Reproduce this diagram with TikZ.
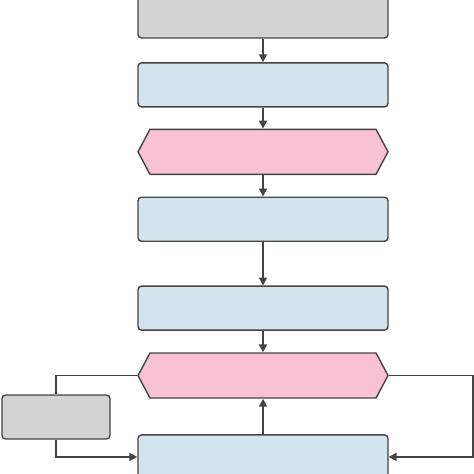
\documentclass[tikz,border=0pt]{standalone}
\usetikzlibrary{arrows.meta,positioning,shapes.symbols}
\definecolor{LineGray}{RGB}{68,68,68}
\definecolor{BoxGray}{RGB}{211,211,211}
\definecolor{BoxBlue}{RGB}{211,229,236}
\definecolor{BoxPink}{RGB}{249,193,212}
\tikzset{
  stepbox/.style={rectangle,draw=LineGray,line width=0.8pt,rounded corners=2pt,minimum width=5cm,minimum height=0.88cm,inner sep=0pt},
  startbox/.style={stepbox,fill=BoxGray},
  procbox/.style={stepbox,fill=BoxBlue},
  checkbox/.style={signal,signal to=east and west,signal pointer angle=124,draw=LineGray,line width=0.8pt,fill=BoxPink,minimum width=5cm,minimum height=0.9cm,inner sep=0pt},
  link/.style={draw=LineGray,line width=1.1pt},
  flow/.style={-{Triangle[length=4.5pt,width=4.5pt]},draw=LineGray,line width=1.1pt}
}
\begin{document}
\begin{tikzpicture}
\useasboundingbox (0,0) rectangle (9.48,-9.48);
\clip (0,0) rectangle (9.48,-9.48);
\node[startbox](start) at (5.26,-0.32){};
\node[procbox,below=0.47cm of start](prep){};
\node[checkbox,below=0.42cm of prep](check1){};
\node[procbox,below=0.43cm of check1](run){};
\node[procbox,below=0.87cm of run](eval){};
\node[checkbox,below=0.43cm of eval](check2){};
\node[procbox,below=0.71cm of check2](fix){};
\node[startbox,minimum width=2.16cm](side) at (1.12,-8.34){};
\coordinate (rt) at (9.46,0);
\draw[flow](start)--(prep);
\draw[flow](prep)--(check1);
\draw[flow](check1)--(run);
\draw[flow](run)--(eval);
\draw[flow](eval)--(check2);
\draw[flow](fix)--(check2);
\draw[link](check2.west)-|(side.north);
\draw[flow](side.south)|-(fix.west);
\draw[flow](check2.east)--(check2.east-|rt)|-(fix.east);
\end{tikzpicture}
\end{document}
